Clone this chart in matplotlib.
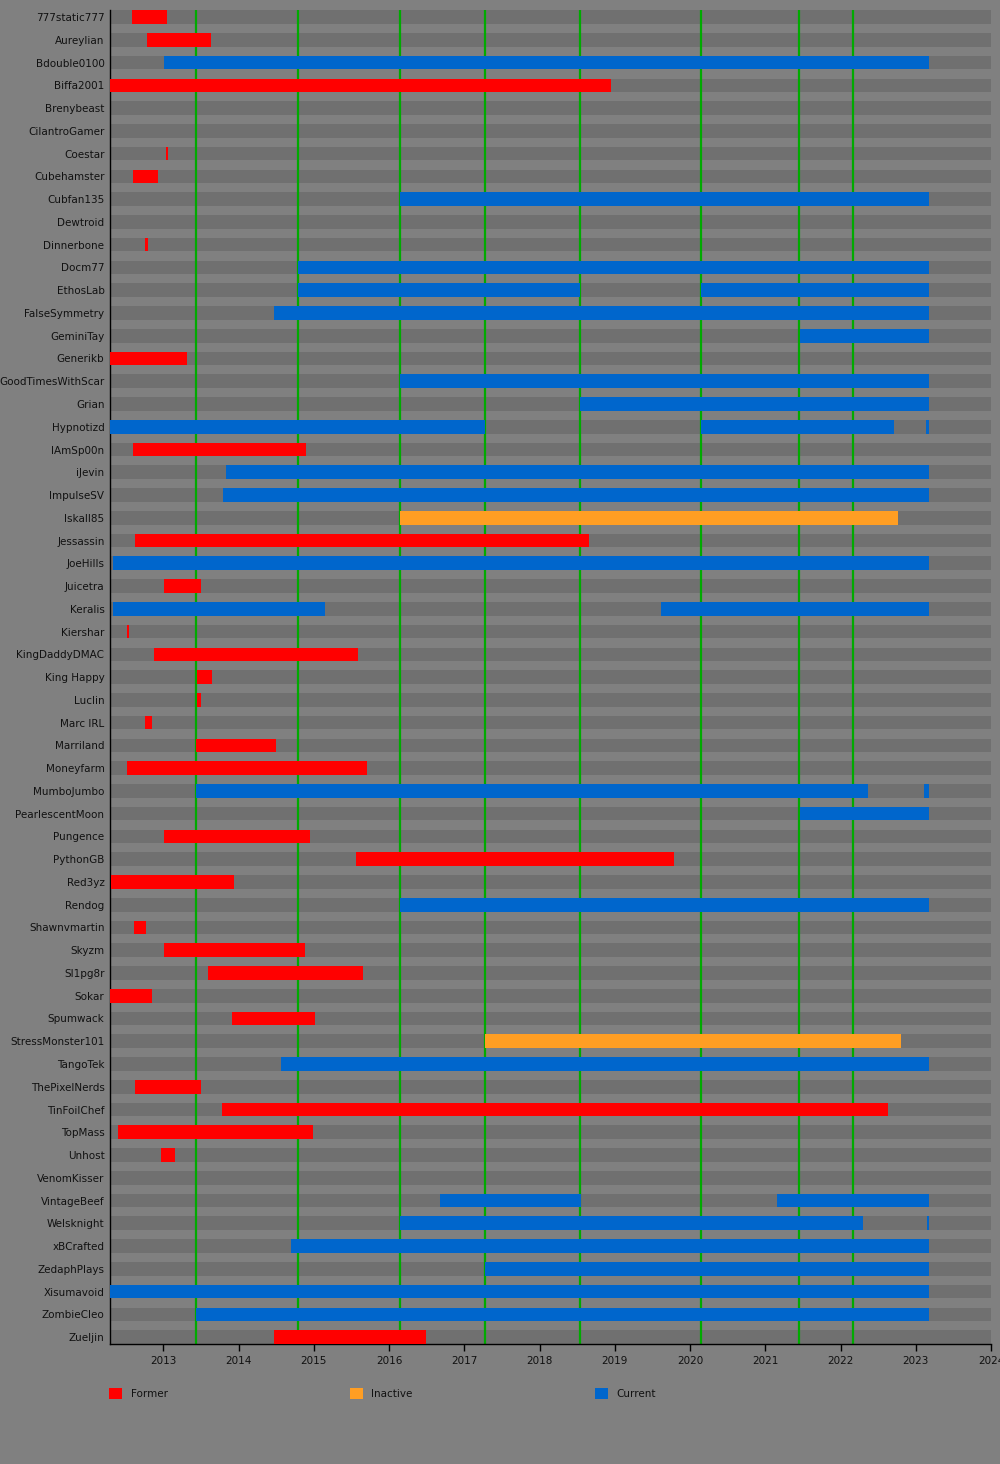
import matplotlib
matplotlib.use("Agg")
import matplotlib.pyplot as plt
from matplotlib.patches import Patch

# members, top to bottom
names = ["777static777", "Aureylian", "Bdouble0100", "Biffa2001", "Brenybeast",
         "CilantroGamer", "Coestar", "Cubehamster", "Cubfan135", "Dewtroid",
         "Dinnerbone", "Docm77", "EthosLab", "FalseSymmetry", "GeminiTay",
         "Generikb", "GoodTimesWithScar", "Grian", "Hypnotizd", "IAmSp00n",
         "iJevin", "ImpulseSV", "Iskall85", "Jessassin", "JoeHills",
         "Juicetra", "Keralis", "Kiershar", "KingDaddyDMAC", "King Happy",
         "Luclin", "Marc IRL", "Marriland", "Moneyfarm", "MumboJumbo",
         "PearlescentMoon", "Pungence", "PythonGB", "Red3yz", "Rendog",
         "Shawnvmartin", "Skyzm", "Sl1pg8r", "Sokar", "Spumwack",
         "StressMonster101", "TangoTek", "ThePixelNerds", "TinFoilChef", "TopMass",
         "Unhost", "VenomKisser", "VintageBeef", "Welsknight", "xBCrafted",
         "ZedaphPlays", "Xisumavoid", "ZombieCleo", "Zueljin"]

# membership status per member
status = ["Former", "Former", "Current", "Former", "Former",
          "Former", "Former", "Former", "Current", "Former",
          "Former", "Current", "Current", "Current", "Current",
          "Former", "Current", "Current", "Current", "Former",
          "Current", "Current", "Inactive", "Former", "Current",
          "Former", "Current", "Former", "Former", "Former",
          "Former", "Former", "Former", "Former", "Current",
          "Current", "Former", "Former", "Former", "Current",
          "Former", "Former", "Former", "Former", "Former",
          "Inactive", "Current", "Former", "Former", "Former",
          "Former", "Former", "Current", "Current", "Current",
          "Current", "Current", "Current", "Former"]

# membership spans in decimal years (start, end)
spans = [
    [(2012.58, 2013.05)],
    [(2012.78, 2013.63)],
    [(2013.01, 2023.17)],
    [(2012.29, 2018.95)],
    [],
    [],
    [(2013.035, 2013.062)],
    [(2012.60, 2012.93)],
    [(2016.15, 2023.17)],
    [],
    [(2012.757, 2012.797)],
    [(2014.79, 2023.17)],
    [(2014.79, 2018.54), (2020.15, 2023.17)],
    [(2014.47, 2023.17)],
    [(2021.46, 2023.17)],
    [(2012.29, 2013.315)],
    [(2016.15, 2023.17)],
    [(2018.54, 2023.17)],
    [(2012.29, 2017.28), (2020.15, 2022.71), (2023.13, 2023.17)],
    [(2012.60, 2014.90)],
    [(2013.83, 2023.17)],
    [(2013.79, 2023.17)],
    [(2016.15, 2022.77)],
    [(2012.62, 2018.66)],
    [(2012.33, 2023.17)],
    [(2013.01, 2013.50)],
    [(2012.33, 2015.15), (2019.62, 2023.17)],
    [(2012.517, 2012.545)],
    [(2012.88, 2015.58)],
    [(2013.45, 2013.65)],
    [(2013.45, 2013.50)],
    [(2012.757, 2012.85)],
    [(2013.435, 2014.50)],
    [(2012.52, 2015.70)],
    [(2013.435, 2022.37), (2023.105, 2023.17)],
    [(2021.46, 2023.17)],
    [(2013.01, 2014.95)],
    [(2015.56, 2019.79)],
    [(2012.30, 2013.94)],
    [(2016.15, 2023.17)],
    [(2012.61, 2012.77)],
    [(2013.01, 2014.885)],
    [(2013.595, 2015.655)],
    [(2012.29, 2012.85)],
    [(2013.915, 2015.015)],
    [(2017.28, 2022.80)],
    [(2014.565, 2023.17)],
    [(2012.62, 2013.50)],
    [(2013.78, 2022.63)],
    [(2012.395, 2014.99)],
    [(2012.97, 2013.155)],
    [],
    [(2016.67, 2018.555), (2021.16, 2023.17)],
    [(2016.15, 2022.305), (2023.145, 2023.17)],
    [(2014.70, 2023.17)],
    [(2017.28, 2023.17)],
    [(2012.29, 2023.17)],
    [(2013.435, 2023.17)],
    [(2014.47, 2016.49)],
]

# season starts (green lines)
seasons = [2013.435, 2014.79, 2016.15, 2017.28, 2018.54, 2020.145, 2021.45, 2022.167]

colors = {"Former": "#ff0000", "Inactive": "#ff9e23", "Current": "#0066cc"}
x_start, x_end = 2012.29, 2024

fig = plt.figure(figsize=(10, 14.64), dpi=100, facecolor="#808080")
ax = fig.add_axes([0.11, 0.082, 0.881, 0.911])
ax.set_facecolor("#808080")

rows = list(range(len(names)))

# background band for every row
ax.barh(rows, x_end - x_start, left=x_start, height=0.6, color="#707070", zorder=1)

for s in seasons:
    ax.axvline(s, color="#00aa00", lw=1.6, zorder=2)

for i, segs in enumerate(spans):
    for a, b in segs:
        ax.barh(i, b - a, left=a, height=0.6, color=colors[status[i]], zorder=3)

ax.set_xlim(x_start, x_end)
ax.set_ylim(len(names) - 0.7, -0.3)
ax.set_yticks(rows)
ax.set_yticklabels(names, fontsize=7.5, color="#111111")
ax.set_xticks(range(2013, 2025))
ax.set_xticklabels([str(y) for y in range(2013, 2025)], fontsize=7.5, color="#111111")
ax.tick_params(axis="y", length=0, pad=4)
ax.tick_params(axis="x", length=5, width=1)

for side in ["top", "right"]:
    ax.spines[side].set_visible(False)
for side in ["left", "bottom"]:
    ax.spines[side].set_color("black")
    ax.spines[side].set_linewidth(1)

handles = [Patch(facecolor=colors[k], edgecolor="none", label=k)
           for k in ["Former", "Inactive", "Current"]]
fig.legend(handles=handles, loc="center left", ncol=3, mode="expand",
           bbox_to_anchor=(0.1, 0.0383, 0.565, 0.02), frameon=False,
           fontsize=7.5, handlelength=1.25, handleheight=1.25,
           handletextpad=0.8, labelcolor="#111111")

fig.savefig("out.png", dpi=100, facecolor="#808080")
